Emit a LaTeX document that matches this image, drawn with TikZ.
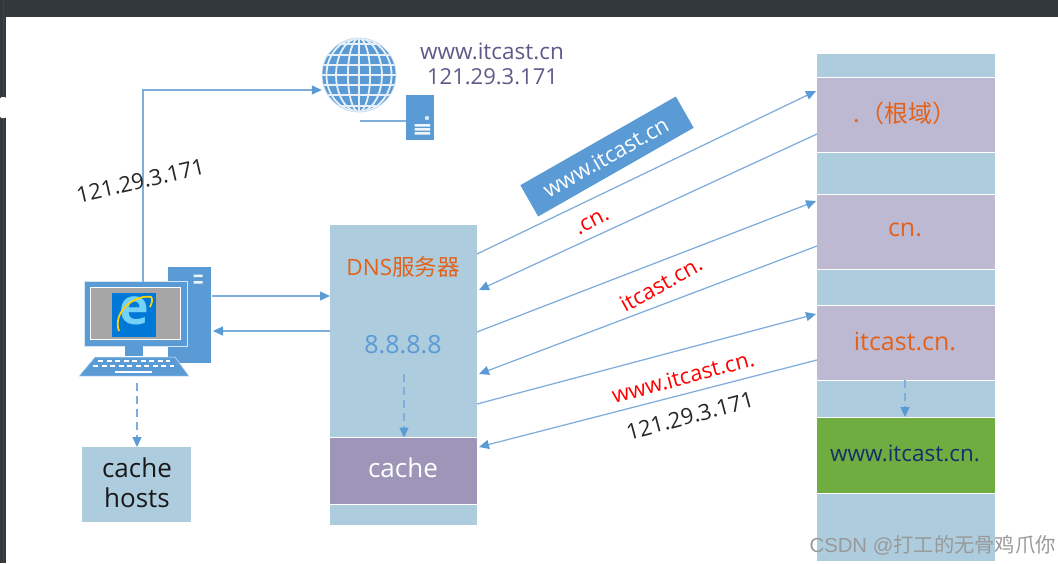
\documentclass[tikz,border=0pt]{standalone}
\usepackage{fontspec}
\setmainfont{Open Sans}
\newfontfamily\cjkf{Noto Sans CJK SC}
\newfontfamily\wmf{Liberation Sans}
\usetikzlibrary{arrows.meta}
\definecolor{barD}{HTML}{33383D}
\definecolor{lblue}{HTML}{ADCCDE}
\definecolor{lpurp}{HTML}{BDB9D2}
\definecolor{dpurp}{HTML}{9E96B8}
\definecolor{lgreen}{HTML}{70AD40}
\definecolor{mblue}{HTML}{5B9BD5}
\definecolor{lineb}{HTML}{7FAEDC}
\definecolor{orng}{HTML}{E2621B}
\definecolor{slate}{HTML}{5F5A88}
\definecolor{navy}{HTML}{12306B}
\definecolor{iebg}{HTML}{0078D7}
\tikzset{
 seg/.style={fill=#1,draw=none,inner sep=0pt,outer sep=0pt},
 link/.style={draw=lineb,line width=1.25pt,-{Triangle[length=10pt,width=9pt,color=mblue,fill=mblue]}},
 dlink/.style={link,dash pattern=on 8pt off 5pt},
 lab/.style={inner sep=0pt,font=\fontsize{22.5}{26}\selectfont},
 redlab/.style={lab,text=red,font=\fontsize{22}{26}\selectfont},
 blklab/.style={lab,text=black!85,font=\fontsize{22}{26}\selectfont},
 orlab/.style={lab,text=orng,font=\fontsize{25}{28}\selectfont},
}
\begin{document}
\begin{tikzpicture}[x=1pt,y=-1pt]
\useasboundingbox (0,0) rectangle (1058,563);
\fill[white] (0,0) rectangle (1058,563);
% window frame
\fill[barD] (0,0) rectangle (1058,16.5);
\fill[barD] (0,0) rectangle (6,563);
\fill[red!55!barD] (2.5,0) rectangle (3.8,563);
\fill[white,rounded corners=1.5pt] (0,97) rectangle (6.5,118);
% right column
\fill[lblue] (817,54) rectangle (995,561);
\foreach \a/\b/\c/\n in {77/152/lpurp/root,194/269/lpurp/cn,305.5/380/lpurp/itc}{
  \node[seg=\c,minimum width=178pt,minimum height={(\b-\a)*1pt},anchor=north west] (\n) at (817,\a) {};
  \draw[white,line width=.8pt] (817,\a) -- (995,\a) (817,\b) -- (995,\b);
}
\node[seg=lgreen,minimum width=178pt,minimum height=76pt,anchor=north west] (www) at (817,417) {};
\draw[white,line width=.8pt] (817,417) -- (995,417) (817,493) -- (995,493);
\node[orlab,font=\fontsize{24}{26}\selectfont\cjkf] at (905,113) {.（根域）};
\node[orlab] at (905,230) {cn.};
\node[orlab] at (905,341) {itcast.cn.};
\node[lab,text=navy] at (905,453) {www.itcast.cn.};
% DNS
\node[seg=lblue,minimum width=147pt,minimum height=300pt,anchor=north west] (dns) at (330,225) {};
\node[seg=dpurp,minimum width=147pt,minimum height=67pt,anchor=north west] (cache) at (330,437.5) {};
\draw[white,line width=.8pt] (330,437) -- (477,437) (330,504.5) -- (477,504.5);
\node[orlab,font=\fontsize{22.5}{26}\selectfont] at (403,267) {DNS\cjkf 服务器};
\node[lab,text=mblue,font=\fontsize{25}{28}\selectfont] (ip) at (403,345) {8.8.8.8};
\node[lab,text=white,font=\fontsize{26}{30}\selectfont] at (403,468) {cache};
% hosts
\node[seg=lblue,minimum width=109pt,minimum height=75pt,anchor=north west] (hosts) at (82,447) {};
\node[lab,text=black!90,align=center,font=\fontsize{26}{30}\selectfont] at (137,482.5) {cache\\hosts};
% globe
\begin{scope}
 \clip (359,75) circle (37);
 \fill[mblue] (359,75) circle (37);
 \foreach \k in {-31,-20,-10,0,10,20,31}{
  \draw[white!85!mblue,line width=1.8pt] (322,75+\k) -- (396,75+\k);
 }
 \foreach \k in {.3,.62,.88}{
  \draw[white!85!mblue,line width=1.8pt] (359,75) ellipse ({37*\k} and 37);
 }
 \draw[white!85!mblue,line width=1.8pt] (359,38) -- (359,112);
\end{scope}
\node[circle,minimum size=74pt,inner sep=0pt,draw=none] (globe) at (359,75) {};
\draw[white!70!mblue,line width=.8pt] (359,75) circle (37);
% server
\node[seg=mblue,minimum width=28pt,minimum height=45pt,anchor=north west] (srv) at (406,95) {};
\fill[white!75!mblue] (427,118) circle (2.2);
\fill[white!90!mblue] (414.5,124) rectangle (430,126.5) (414.5,128) rectangle (430,130.5) (414.5,132) rectangle (430,134.5);
\coordinate (srvl) at (360,121);
\draw[lineb,line width=1.25pt] (srvl) -- (srv.west |- srvl);
\node[lab,text=slate] at (492,51) {www.itcast.cn};
\node[lab,text=slate,font=\fontsize{22}{26}\selectfont] at (492.5,77) {121.29.3.171};
% computer
\node[seg=mblue,minimum width=43pt,minimum height=96pt,anchor=north west] (tower) at (168,267) {};
\fill[white!90!mblue] (193.5,274.5) rectangle (202.5,277) (193.5,281) rectangle (202.5,283.5);
\node[seg=mblue,draw=white!75!mblue,line width=.7pt,minimum width=103pt,minimum height=65pt,anchor=north west] (mon) at (84,281.5) {};
\fill[gray!70,draw=white,line width=1pt] (90,287.5) rectangle (180,339.5);
\fill[mblue] (125,346) rectangle (143,356);
\fill[mblue,draw=white!75!mblue,line width=.5pt] (95,357) -- (175,357) -- (189,376) -- (79,376) -- cycle;
\foreach \y/\s/\e in {361/98/170,366/93/174}{
 \draw[white,line width=2pt,dash pattern=on 5pt off 3.5pt] (\s,\y) -- (\e,\y);
}
\draw[white,line width=2pt] (115,372) -- (152,372);
% IE icon
\fill[iebg] (112,293) rectangle (156,337);
\node[inner sep=0pt,text=cyan!55!white,font=\fontsize{50}{50}\selectfont\bfseries] at (134,311) {e};
\draw[yellow!70!orange,line width=1.8pt] (119,331) .. controls (112,312) and (135,294) .. (151,297) .. controls (153,299) and (152,303) .. (150,307);
% connectors
\coordinate (topc) at (143,90);
\draw[link] (mon.north -| topc) -- (topc) -- (globe.west |- topc);
\coordinate (t1) at (212,296);
\coordinate (t2) at (213,331);
\coordinate (d2) at (330,331);
\draw[link] (t1) -- (dns.west |- t1);
\draw[link] (d2) -- (t2);
\coordinate (pcb) at (137,383);
\draw[dlink] (pcb) -- (hosts.north -| pcb);
\coordinate (ipb) at (404,374);
\draw[dlink] (ipb) -- (cache.north -| ipb);
\coordinate (itb) at (905,380);
\draw[dlink] (itb) -- (www.north -| itb);
% long arrows
\foreach \n/\xa/\ya/\xb/\yb in {1/477/254/816/91,2/817/134/479/290,3/477/332/816/201,4/817/246/479/374,5/477/404/816/314,6/817/360/479/447}{
 \coordinate (s\n) at (\xa,\ya);
 \coordinate (e\n) at (\xb,\yb);
 \draw[link] (s\n) -- (e\n);
}
% banner
\node[fill=mblue,inner sep=0pt,minimum width=179pt,minimum height=36pt,rotate=29.7,text=white,font=\fontsize{22}{24}\selectfont] (banner) at (607,156.5) {www.itcast.cn\hspace*{3pt}};
% labels
\node[blklab,rotate=13] at (140.5,181) {121.29.3.171};
\node[redlab,rotate=27] at (592,222) {.cn.};
\node[redlab,rotate=29] at (661,284) {itcast.cn.};
\node[redlab,rotate=15] at (683,377) {www.itcast.cn.};
\node[blklab,rotate=15] at (690,416) {121.29.3.171};
% watermark
\node[inner sep=0pt,anchor=east,text=gray!80,font=\fontsize{20.3}{22}\selectfont\wmf] at (1056,545) {CSDN @{\cjkf 打工的无骨鸡爪你}};
\end{tikzpicture}
\end{document}
